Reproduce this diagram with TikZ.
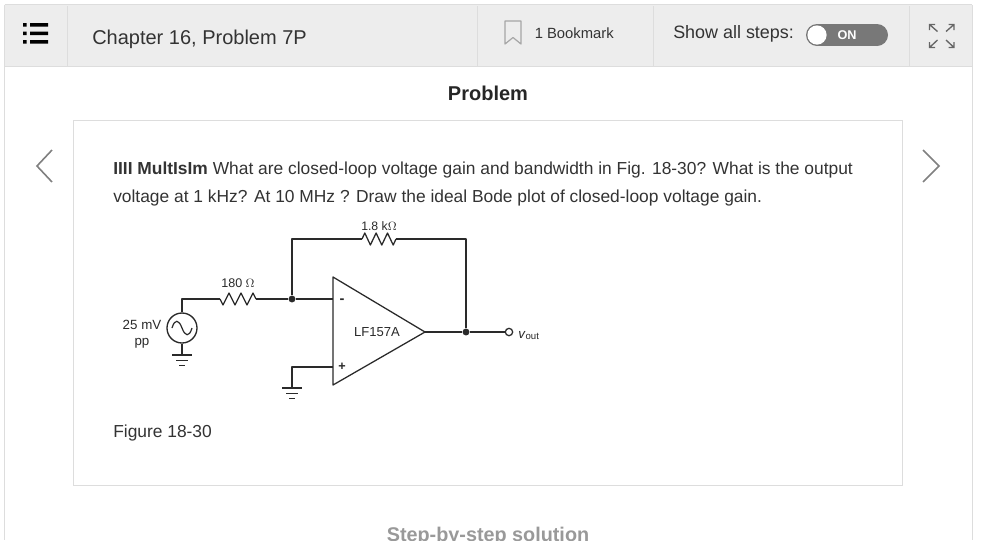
\documentclass[tikz,border=0pt]{standalone}
\usepackage{fontspec}
\setmainfont{Liberation Sans}
\definecolor{hdr}{HTML}{EDEDED}
\definecolor{brd}{HTML}{DDDDDD}
\definecolor{ink}{HTML}{333333}
\definecolor{wire}{HTML}{2A2A2A}
\newcommand{\fs}[1]{\fontsize{#1}{#1}\selectfont}
\tikzset{
  txt/.style={inner sep=0pt,anchor=base west,text=ink},
  ctxt/.style={inner sep=0pt,anchor=base,text=wire},
  wr/.style={draw=wire,line width=0.95pt,line join=round},
  wrb/.style={draw=wire,line width=1.25pt,line join=round},
  sep/.style={draw=brd,line width=0.75pt},
  dotn/.style={circle,fill=wire,inner sep=0pt,minimum size=5.2pt},
  chev/.style={draw=black!50,line width=1.2pt},
  expd/.style={draw=black!60,line width=1pt},
}
\begin{document}
\begin{tikzpicture}[x=0.75pt,y=-0.75pt]
\useasboundingbox (0,0) rectangle (997,540);
\clip (0,0) rectangle (997,540);
\fill[white] (0,0) rectangle (997,540);
% page frame
\draw[sep] (4.5,5) -- (4.5,540);
\draw[sep] (972,5) -- (972,540);
\fill[hdr] (4.5,5) rectangle (972,66.5);
\draw[sep] (4.5,4.5) -- (972,4.5);
\draw[sep] (4.5,66.5) -- (972,66.5);
\foreach \x in {67.5,477.5,653.5,909.5} \draw[sep] (\x,6) -- (\x,66);
% list icon
\fill[black] (23,23) rectangle (26.5,26.5) (23,31.5) rectangle (26.5,35) (23,40) rectangle (26.5,43.5);
\fill[black] (30,23) rectangle (48,26.5) (30,31.5) rectangle (48,35) (30,40) rectangle (48,43.5);
\node[txt] (title) at (92,44) {\fs{15}Chapter 16, Problem 7P};
% bookmark
\draw[draw=black!35,line width=0.9pt,line join=round] (505,21) -- (521,21) -- (521,44) -- (513,37.5) -- (505,44) -- cycle;
\node[txt] (bm) at (534.5,38.5) {\fs{11.1}1 Bookmark};
\node[txt] (show) at (673,38.5) {\fs{13.45}Show all steps:};
% toggle
\fill[black!53] (817,24) rectangle (877,46);
\fill[black!53] (877,35) circle[radius=11];
\fill[black!53] (817,35) circle[radius=11];
\fill[white] (817,35) circle[radius=9.6];
\node[inner sep=0pt,anchor=base,text=white] (on) at (847,39.5) {\fs{9.5}\bfseries ON};
% expand icon
\draw[expd] (929.5,30) -- (929.5,24.5) -- (935,24.5) (929.5,24.5) -- (937.5,31.5);
\draw[expd] (948.5,24.5) -- (954,24.5) -- (954,30) (954,24.5) -- (946,31.5);
\draw[expd] (929.5,42) -- (929.5,47.5) -- (935,47.5) (929.5,47.5) -- (937.5,40);
\draw[expd] (948.5,47.5) -- (954,47.5) -- (954,42) (954,47.5) -- (946,40);
% headings
\node[ctxt] (prob) at (488,100) {\fs{15}\bfseries\color{black!85}Problem};
% chevrons
\draw[chev] (52,150) -- (37,166) -- (52,182);
\draw[chev] (923,150) -- (939,166) -- (923,182);
% box
\draw[sep] (73.5,120.5) rectangle (902.5,485.5);
\node[txt] (l1) at (113,174) {\fs{13.04}\textbf{IIII MultIsIm} What are closed-loop voltage gain and bandwidth in Fig. 18-30? What is the output};
\node[txt] (l2) at (113,202) {\fs{13.04}voltage at 1 kHz? At 10 MHz ? Draw the ideal Bode plot of closed-loop voltage gain.};
\node[txt] (fig) at (113,437) {\fs{13.04}Figure 18-30};
\node[inner sep=0pt,anchor=base,text=black!40] (sbs) at (488,541) {\fs{14.85}\bfseries Step-by-step solution};
% circuit
\coordinate (A) at (333,277);
\coordinate (B) at (333,385);
\coordinate (T) at (425,332);
\coordinate (inm) at (333,299);
\coordinate (inp) at (333,367);
\node[dotn] (J1) at (292,299) {};
\node[dotn] (J2) at (466,332) {};
\node[circle,draw=wire,line width=0.95pt,fill=white,inner sep=0pt,minimum size=5.5pt] (term) at (509,332) {};
\node[circle,draw=wire,line width=1pt,inner sep=0pt,minimum size=22.5pt] (src) at (182,328) {};
\coordinate (c1) at (182,299);
\coordinate (r1a) at (220,299);
\coordinate (r1b) at (256,299);
\coordinate (r2a) at (362,239);
\coordinate (r2b) at (396,239);
\coordinate (c2) at (292,239);
\coordinate (c3) at (466,239);
\coordinate (g1) at (182,355);
\coordinate (c4) at (292,367);
\coordinate (g2) at (292,388);
\draw[wr] (A) -- (B) -- (T) -- cycle;
\draw[wrb] (T) -- (J2);
\draw[wr] (J2) -- (term);
\draw[wrb] (J2) -- (c3) -- (r2b);
\draw[wr] (r2b) -- ++(-2.8,6) -- ++(-5.7,-12) -- ++(-5.7,12) -- ++(-5.7,-12) -- ++(-5.7,12) -- ++(-5.6,-12) -- (r2a);
\draw[wrb] (r2a) -- (c2) -- (J1);
\draw[wrb] (J1) -- (inm);
\draw[wrb] (J1) -- (r1b);
\draw[wr] (r1b) -- ++(-3,-6) -- ++(-6,12) -- ++(-6,-12) -- ++(-6,12) -- ++(-6,-12) -- ++(-6,12) -- (r1a);
\draw[wrb] (r1a) -- (c1) -- (src);
\draw[wr] (src) -- (g1);
\draw[wr] (172,355) -- (192,355);
\draw[wr] (176,360.5) -- (188,360.5);
\draw[wr] (179,365.5) -- (185,365.5);
\draw[wr] (inp) -- (c4) -- (g2);
\draw[wr] (282,388) -- (302,388);
\draw[wr] (286,393.5) -- (298,393.5);
\draw[wr] (289,398.5) -- (295,398.5);
\draw[wr,line width=0.9pt] (172,328) .. controls (175,318) and (179,320) .. (182,328) .. controls (185,336) and (189,338) .. (192,328);
\node[ctxt] (lr2) at (379,230.5) {\fs{9.2}1.8 k\(\Omega\)};
\node[ctxt] (lr1) at (238,287.5) {\fs{9.4}180 \(\Omega\)};
\node[ctxt] (lv) at (142,329) {\fs{10}25 mV};
\node[ctxt] (lpp) at (142,345.5) {\fs{10}pp};
\node[ctxt] (lop) at (377,336) {\fs{9.8}LF157A};
\node[ctxt] (lm) at (342,303) {\fs{11}\bfseries -};
\node[ctxt] (lp) at (342,370.5) {\fs{9.5}\bfseries +};
\node[txt,text=wire] (lout) at (518,338) {\fs{10}\textit{v}\raisebox{-1.3pt}{\fs{7.2}out}};
\end{tikzpicture}
\end{document}
